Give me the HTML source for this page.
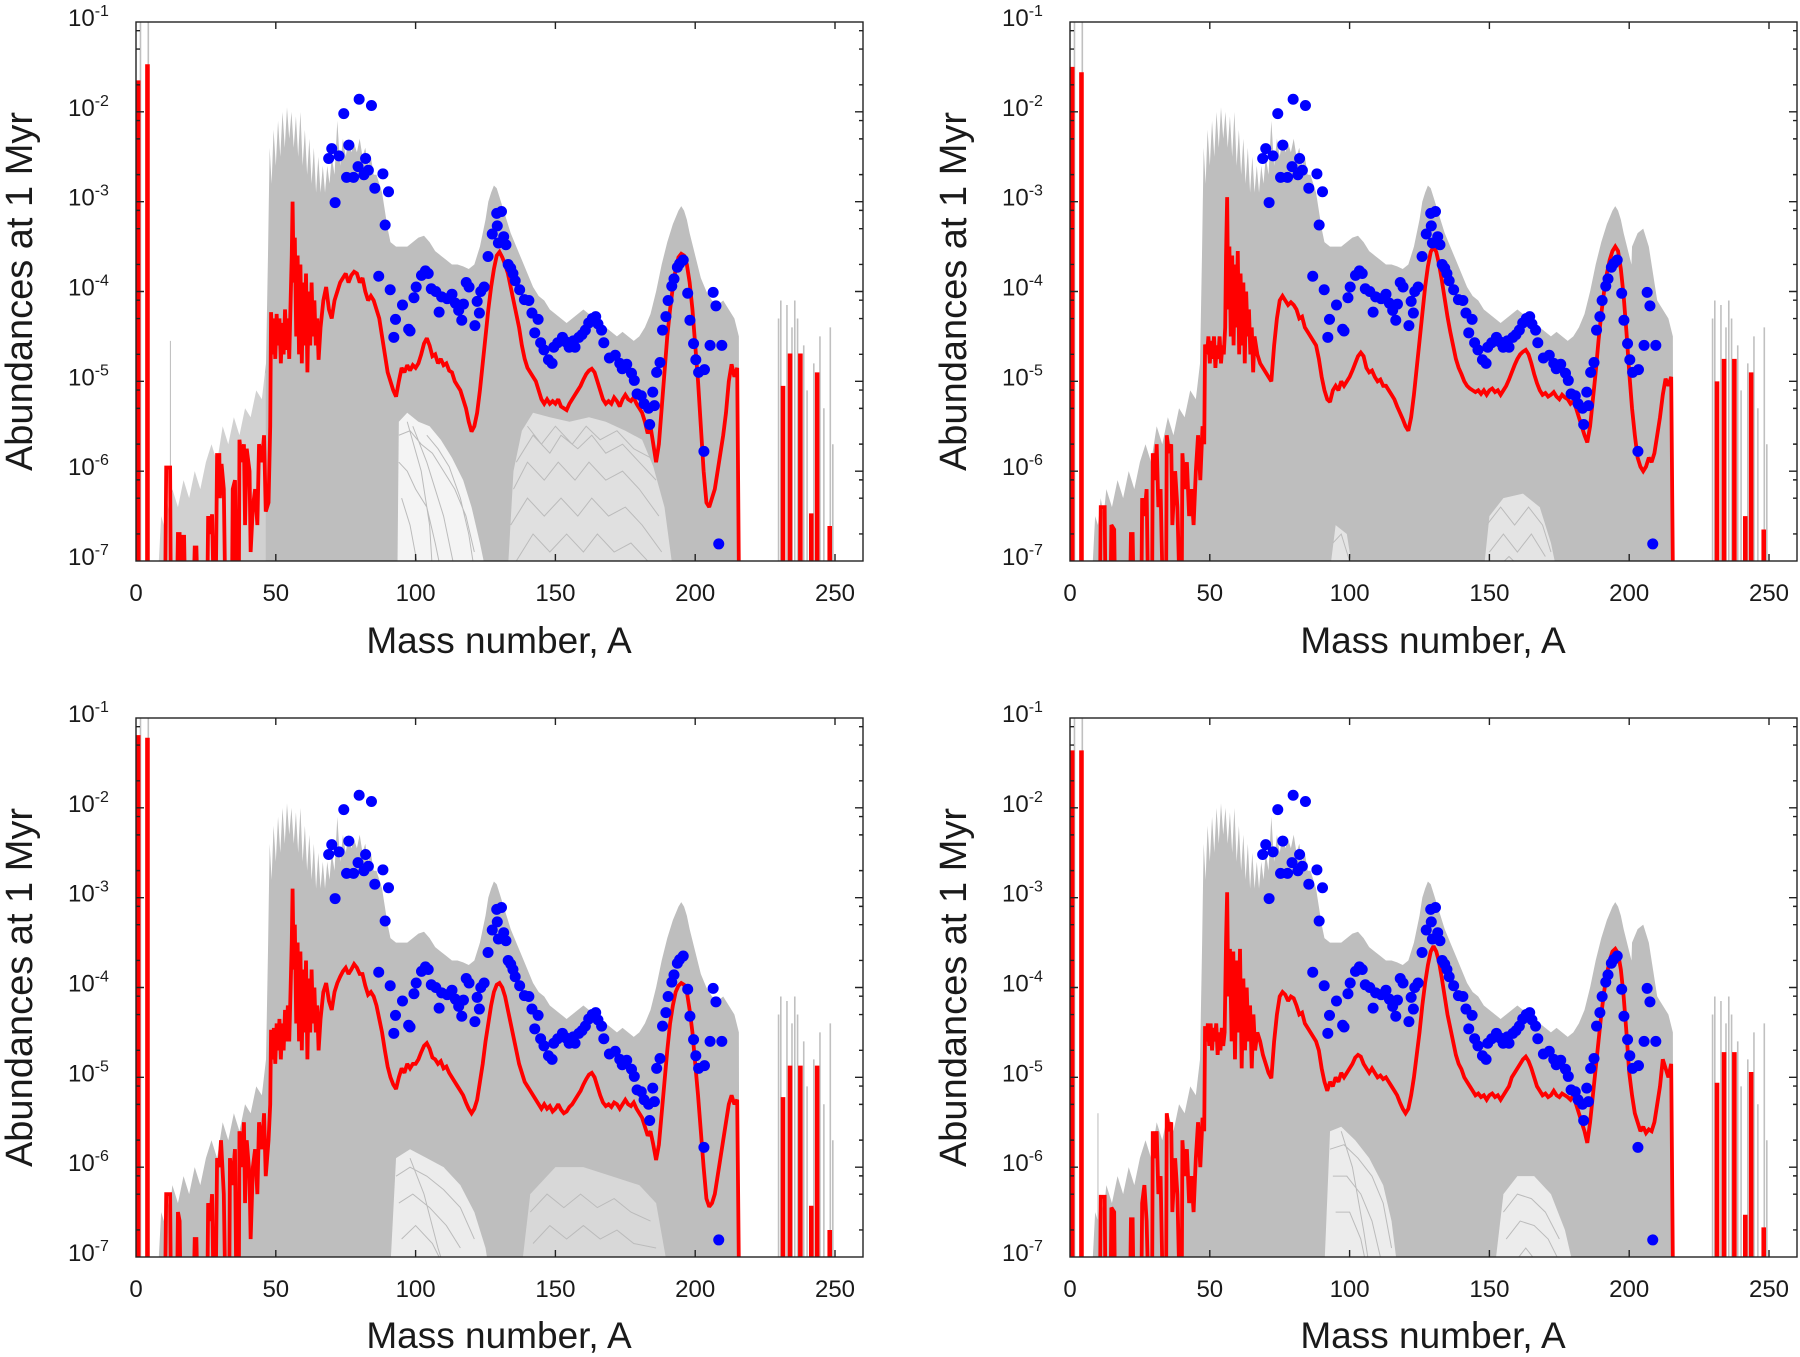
<!DOCTYPE html>
<html><head><meta charset="utf-8"><style>html,body{margin:0;padding:0;background:#fff}svg{display:block}</style></head>
<body>
<svg xmlns="http://www.w3.org/2000/svg" width="1800" height="1357" viewBox="0 0 1800 1357" font-family="'Liberation Sans', Arial, sans-serif">
<rect width="1800" height="1357" fill="#fff"/>
<defs>
<clipPath id="cp"><rect x="0" y="0" width="727" height="539"/></clipPath>
<polygon id="gmain" fill="#bebebe" points="8,7.1 9,6.5 10,6.6 11,6.3 12,6.5 13,6.2 15,6.4 17,6.1 19,6.3 21,6.0 23,6.2 25,5.9 27,5.7 29,5.9 31,5.5 33,5.7 35,5.4 37,5.6 39,5.3 41,5.4 43,5.1 45,5.2 46.5,4.8 47.2,3.6 47.8,2.4 48.5,2.8 49.2,2.2 50,2.6 50.8,2.1 51.6,2.5 52.4,2.0 53.2,2.4 54,1.95 54.8,2.3 55.6,2.0 56.4,2.4 57.2,2.05 58,2.5 58.8,2.0 59.6,2.6 60.4,2.2 61.2,2.7 62,2.3 62.8,2.8 63.6,2.4 64.4,2.9 65.2,2.5 66,2.9 66.8,2.6 67.6,2.9 68.4,2.6 69.2,2.8 70,2.5 71,2.7 72,2.1 73,2.6 74,2.3 75,2.5 76,2.3 77,2.45 78,2.35 79,2.45 80,2.3 81,2.5 82,2.4 83,2.6 84,2.5 85,2.7 86,2.7 87,2.8 88,2.9 89,3.1 90,3.3 91,3.45 93,3.5 95,3.5 97,3.5 99,3.45 101,3.4 103,3.38 105,3.45 107,3.55 109,3.6 111,3.65 113,3.7 115,3.7 117,3.72 119,3.75 121,3.7 123,3.5 125,3.2 126,3.0 127,2.9 128,2.82 129,2.85 130,2.95 131,3.05 132,3.15 134,3.35 136,3.5 138,3.65 140,3.8 142,3.95 144,4.05 146,4.1 148,4.2 150,4.25 152,4.3 154,4.35 156,4.3 158,4.25 160,4.2 162,4.25 164,4.3 166,4.35 168,4.4 170,4.45 172,4.5 174,4.45 176,4.5 178,4.55 180,4.5 182,4.4 184,4.25 186,4.0 188,3.7 190,3.45 192,3.25 194,3.1 195,3.05 196,3.1 197,3.2 198,3.35 200,3.6 202,3.85 204,4.0 206,4.1 208,4.15 210,4.1 212,4.2 214,4.3 215.6,4.5 215.8,7.1"/>
<g id="gright" fill="none" stroke="#c0c0c0" stroke-width="1.6">
<path vector-effect="non-scaling-stroke" d="M229.8 7.1V4.3 M230.6 7.1V4.1 M232.8 7.1V4.15 M234.6 7.1V4.4 M235.6 7.1V4.1 M236.6 7.1V4.3 M238.8 7.1V4.6 M240 7.1V5.1 M242.4 7.1V4.8 M244.6 7.1V4.5 M246 7.1V5.3 M248.3 7.1V4.4 M249.2 7.1V5.7 M1.6 7.1V1 M4.4 7.1V1"/>
</g>
<path id="dots" fill="none" stroke="#0000ff" stroke-width="11" stroke-linecap="round" vector-effect="non-scaling-stroke" d="M68.9 2.52h.01 M70 2.41h.01 M72.6 2.49h.01 M74.3 2.02h.01 M76.1 2.37h.01 M75.3 2.73h.01 M71.2 3.01h.01 M77.8 2.73h.01 M79.8 1.86h.01 M79.4 2.61h.01 M82.1 2.52h.01 M81.5 2.7h.01 M83.1 2.65h.01 M84.2 1.93h.01 M85.4 2.85h.01 M88.3 2.69h.01 M89.1 3.26h.01 M90.3 2.89h.01 M86.8 3.83h.01 M90.9 3.98h.01 M92.8 4.31h.01 M92.2 4.51h.01 M95.3 4.15h.01 M97.5 4.42h.01 M98 4.44h.01 M99.4 4.07h.01 M100.2 3.95h.01 M102.1 3.82h.01 M103.5 3.77h.01 M104.5 3.8h.01 M105.6 3.97h.01 M107.2 4h.01 M108.4 4.23h.01 M109.3 4.06h.01 M111.3 4.08h.01 M113 4.03h.01 M114.2 4.13h.01 M115.4 4.21h.01 M116.5 4.32h.01 M117.1 4.14h.01 M118.1 3.9h.01 M119.1 3.95h.01 M121.2 4.38h.01 M122 4.11h.01 M122.8 4.24h.01 M123.3 4h.01 M124.5 3.95h.01 M125.9 3.61h.01 M127.4 3.36h.01 M129 3.13h.01 M130.7 3.11h.01 M129.2 3.27h.01 M129.6 3.46h.01 M131.5 3.39h.01 M132.3 3.48h.01 M133.1 3.7h.01 M134 3.74h.01 M134.8 3.8h.01 M135.6 3.88h.01 M137.2 3.98h.01 M138.9 4.09h.01 M140.5 4.1h.01 M141.6 4.24h.01 M142.6 4.46h.01 M143.8 4.31h.01 M144.7 4.57h.01 M145.9 4.65h.01 M147.5 4.76h.01 M148.8 4.8h.01 M149.4 4.62h.01 M150.8 4.57h.01 M152.5 4.51h.01 M153.7 4.56h.01 M154.9 4.62h.01 M156.4 4.55h.01 M157 4.62h.01 M158.4 4.51h.01 M159.5 4.48h.01 M160.7 4.43h.01 M161.9 4.35h.01 M163.2 4.3h.01 M164.4 4.28h.01 M165.2 4.36h.01 M166.5 4.43h.01 M167.3 4.57h.01 M169.3 4.74h.01 M171.4 4.71h.01 M173 4.8h.01 M173.9 4.86h.01 M175.5 4.81h.01 M177.2 4.91h.01 M178.2 4.99h.01 M179.2 5.14h.01 M180.7 5.16h.01 M181.7 5.25h.01 M183.3 5.3h.01 M184.8 5.12h.01 M185.4 5.27h.01 M183.7 5.48h.01 M186.2 4.9h.01 M187.4 4.79h.01 M188.3 4.43h.01 M189.5 4.28h.01 M190.3 4.1h.01 M191.6 3.94h.01 M192.4 3.86h.01 M193.6 3.73h.01 M194.4 3.69h.01 M195.7 3.65h.01 M197.3 4.02h.01 M198.1 4.32h.01 M199.4 4.58h.01 M200.2 4.76h.01 M201.2 4.9h.01 M203.3 4.87h.01 M203.1 5.78h.01 M205.3 4.6h.01 M206.4 4.01h.01 M207.4 4.16h.01 M209.5 4.6h.01 M208.4 6.81h.01"/>
<g id="frame" fill="none" stroke="#222" stroke-width="1.4">
<rect x="0" y="0" width="727" height="539"/>
<path d="M0 89.83h8M0 179.67h8M0 269.5h8M0 359.33h8M0 449.17h8
M727 89.83h-8M727 179.67h-8M727 269.5h-8M727 359.33h-8M727 449.17h-8
M0 8.71h4M0 27.04h4M0 62.79h4M0 98.54h4M0 116.87h4M0 152.62h4M0 188.38h4M0 206.71h4M0 242.46h4M0 278.21h4M0 296.54h4M0 332.29h4M0 368.04h4M0 386.38h4M0 422.13h4M0 457.88h4M0 476.21h4M0 511.96h4
M727 8.71h-4M727 27.04h-4M727 62.79h-4M727 98.54h-4M727 116.87h-4M727 152.62h-4M727 188.38h-4M727 206.71h-4M727 242.46h-4M727 278.21h-4M727 296.54h-4M727 332.29h-4M727 368.04h-4M727 386.38h-4M727 422.13h-4M727 457.88h-4M727 476.21h-4M727 511.96h-4
M139.8 539v-7M279.6 539v-7M419.4 539v-7M559.2 539v-7M699 539v-7
M139.8 0v7M279.6 0v7M419.4 0v7M559.2 0v7M699 0v7"/>
</g>
</defs>

<!-- ================= TOP LEFT ================= -->
<g transform="translate(136,22)">
<g clip-path="url(#cp)">
<g transform="scale(2.7962,89.833) translate(0,-1)">
<use href="#gmain"/>
<polygon points="8,7.1 8,6.4 20,6.0 30,5.5 40,5.2 46.4,4.9 46.4,7.1" fill="#fff" opacity="0.3"/>
<polygon points="93.5,7.1 94,5.45 97,5.35 101,5.45 105,5.5 109,5.65 113,5.85 117,6.1 120,6.4 123,6.8 125,7.1" fill="#f4f4f4"/>
<polygon points="133,7.1 135,6.0 138,5.55 142,5.35 148,5.4 155,5.45 162,5.4 168,5.45 175,5.55 181,5.65 185,5.95 189,6.4 192,7.1" fill="#e0e0e0"/>
<path fill="none" stroke="#bbb" stroke-width="1" vector-effect="non-scaling-stroke" d="M94 5.6 L98 5.55 L102 5.7 L106 5.8 L110 6.0 L114 6.2 L118 6.5 L121 6.9 M94 5.9 L97 6.0 L100 6.2 L104 6.4 L107 6.8 L109 7.1 M95 6.3 L98 6.6 L101 7.1 M104 5.6 L108 5.75 L112 5.95 L116 6.3 L119 6.7 L121 7.1 M99 5.5 L104 5.9 L110 6.5 L114 7.1 M97 5.45 L102 6.0 L105 6.6 L106 7.1 M136 5.9 L142 5.6 L148 5.8 L152 5.6 L158 5.75 L163 5.6 L168 5.8 L174 5.7 L180 5.9 L186 6.1 M135 6.2 L140 5.9 L146 6.1 L151 5.9 L157 6.1 L162 5.9 L168 6.1 L174 6.0 L180 6.2 L187 6.5 M134 6.6 L140 6.3 L146 6.5 L152 6.3 L158 6.5 L163 6.3 L169 6.5 L175 6.4 L181 6.6 L188 6.9 M136 7.0 L142 6.7 L148 6.9 L154 6.7 L160 6.9 L165 6.7 L171 6.9 L177 6.8 L183 7.0 M140 5.5 L145 5.7 L150 5.5 L156 5.7 L161 5.5 L166 5.65 L172 5.55 L178 5.75 L184 5.85 M12.3 7.1V4.55"/>
<use href="#gright"/>
<path fill="none" stroke="#ff0000" stroke-width="3.8" stroke-linejoin="miter" stroke-miterlimit="2" vector-effect="non-scaling-stroke" d="M10.5 7.1 L10.8 5.96 L12.2 5.96 L12.4 7.1 L14.8 7.1 L15 6.7 L15.6 6.7 L15.8 7.1 L16.4 7.1 L16.6 6.73 L17.2 6.73 L17.4 7.1 L20.8 7.1 L21 6.85 L21.6 6.85 L21.8 7.1 L25.6 7.1 L25.8 6.5 L26.6 6.7 L27.2 6.48 L27.6 7.1 L28.6 7.1 L29 5.82 L29.8 5.82 L30 6.3 L30.6 5.92 L31.4 6.2 L31.8 7.1 L34.4 7.1 L34.6 6.2 L35.4 6.1 L35.8 7.1 L36.8 7.1 L37 5.65 L37.8 5.9 L38.6 5.7 L39 6.6 L39.6 5.75 L40.6 6.0 L41 6.9 L41.8 6.4 L42.6 6.2 L43.4 6.6 L44 5.7 L45 5.9 L45.8 5.6 L46.4 6.45 L47.4 6.35 L48 5.5 L48.3 4.23 L48.8 4.7 L49.3 4.3 L49.8 4.75 L50.3 4.25 L50.8 4.6 L51.3 4.3 L51.8 4.8 L52.3 4.35 L52.8 4.7 L53.3 4.2 L53.8 4.65 L54.3 4.3 L54.8 4.75 L55.3 4.1 L55.7 3.6 L56 3.0 L56.4 3.9 L56.8 3.4 L57.3 4.5 L57.8 3.6 L58.3 4.7 L58.8 3.7 L59.3 4.8 L59.8 3.9 L60.3 4.6 L60.8 3.8 L61.3 4.9 L61.8 4.0 L62.3 4.6 L62.8 3.9 L63.3 4.5 L63.8 4.1 L64.3 4.6 L64.8 4.3 L65.3 4.76 L66 4.4 L67 4.1 L68 3.95 L69 4.2 L70 4.3 L71 4.1 L72 4.0 L73 3.9 L74 3.85 L75 3.8 L76 3.9 L77 3.82 L78 3.78 L79 3.8 L80 3.9 L81 3.85 L82 4.0 L83 4.1 L84 4.05 L85 4.1 L86 4.2 L87 4.3 L88 4.5 L89 4.7 L90 4.9 L91 5.0 L92 5.1 L93 5.17 L94 5.0 L95 4.85 L96 4.9 L97 4.82 L98 4.88 L99 4.82 L100 4.85 L101 4.8 L102 4.7 L103 4.58 L104 4.52 L105 4.6 L106 4.72 L107 4.7 L108 4.8 L109 4.75 L110 4.82 L111 4.8 L112 4.88 L113 4.9 L114 5.0 L115 5.05 L116 5.1 L117 5.2 L118 5.3 L119 5.45 L120 5.56 L121 5.5 L122 5.35 L123 5.1 L124 4.8 L125 4.5 L126 4.2 L127 3.95 L128 3.75 L129 3.6 L130 3.56 L131 3.62 L132 3.7 L133 3.8 L134 3.95 L135 4.1 L136 4.25 L137 4.4 L138 4.6 L139 4.75 L140 4.85 L141 4.9 L142 4.95 L143 5.0 L144 5.1 L145 5.2 L146 5.25 L147 5.2 L148 5.25 L149 5.22 L150 5.25 L151 5.2 L152 5.28 L153 5.3 L154 5.32 L155 5.25 L156 5.2 L157 5.15 L158 5.1 L159 5.05 L160 4.98 L161 4.92 L162 4.88 L163 4.86 L164 4.9 L165 5.0 L166 5.1 L167 5.2 L168 5.25 L169 5.22 L170 5.25 L171 5.18 L172 5.22 L173 5.28 L174 5.2 L175 5.15 L176 5.2 L177 5.22 L178 5.18 L179 5.25 L180 5.3 L181 5.35 L182 5.45 L183 5.58 L184 5.5 L185 5.7 L186 5.9 L187 5.7 L188 5.3 L189 4.9 L190 4.5 L191 4.2 L192 3.95 L193 3.75 L194 3.62 L195 3.58 L196 3.6 L197 3.7 L198 3.9 L199 4.2 L200 4.6 L201 5.0 L202 5.5 L203 6.0 L204 6.35 L205 6.4 L206 6.3 L207 6.2 L208 6.0 L209 5.8 L210 5.6 L211 5.35 L212 5.0 L213 4.81 L214 4.95 L215 4.85 L215.6 7.1"/>
<path fill="none" stroke="#ff0000" stroke-width="4.6" vector-effect="non-scaling-stroke" d="M0.8 7.1V1.65 M4.1 7.1V1.47 M231.4 7.1V5.05 M233.9 7.1V4.69 M237.6 7.1V4.69 M241.5 7.1V6.47 M243.6 7.1V4.9 M248.1 7.1V6.61"/>
<use href="#dots"/>
</g>
</g>
<use href="#frame"/>
<g fill="#1a1a1a">
<text x="-68" y="4" font-size="24">10<tspan dy="-10" font-size="16">-1</tspan></text>
<text x="-68" y="93.8" font-size="24">10<tspan dy="-10" font-size="16">-2</tspan></text>
<text x="-68" y="183.7" font-size="24">10<tspan dy="-10" font-size="16">-3</tspan></text>
<text x="-68" y="273.5" font-size="24">10<tspan dy="-10" font-size="16">-4</tspan></text>
<text x="-68" y="363.3" font-size="24">10<tspan dy="-10" font-size="16">-5</tspan></text>
<text x="-68" y="453.2" font-size="24">10<tspan dy="-10" font-size="16">-6</tspan></text>
<text x="-68" y="543" font-size="24">10<tspan dy="-10" font-size="16">-7</tspan></text>
<g font-size="24" text-anchor="middle">
<text x="0" y="579">0</text><text x="139.8" y="579">50</text><text x="279.6" y="579">100</text><text x="419.4" y="579">150</text><text x="559.2" y="579">200</text><text x="699" y="579">250</text>
</g>
<text x="363" y="631" font-size="37" text-anchor="middle">Mass number, A</text>
<text transform="translate(-104,269.5) rotate(-90)" font-size="38" text-anchor="middle">Abundances at 1 Myr</text>
</g>
</g>

<!-- ================= TOP RIGHT ================= -->
<g transform="translate(1070,22)">
<g clip-path="url(#cp)">
<g transform="scale(2.7962,89.833) translate(0,-1)">
<use href="#gmain"/>
<polygon fill="#bebebe" points="199,5.5 201,3.5 203,3.35 205,3.3 207,3.5 209,3.9 211,4.3 213,4.5 215,4.7 215.6,5.5"/>
<polygon points="148,7.1 150,6.5 155,6.3 162,6.25 168,6.4 172,6.8 174,7.1" fill="#e4e4e4"/>
<polygon points="93,7.1 95,6.6 99,6.7 101,7.1" fill="#e4e4e4"/>
<path fill="none" stroke="#bbb" stroke-width="1" vector-effect="non-scaling-stroke" d="M149 6.6 L154 6.4 L159 6.6 L164 6.4 L169 6.6 L172 6.9 M150 6.9 L155 6.7 L160 6.9 L165 6.7 L170 6.95 M152 7.1 L157 6.95 L162 7.1 M94 6.8 L97 6.7 L100 7.0"/>
<use href="#gright"/>
<path fill="none" stroke="#ff0000" stroke-width="3.8" stroke-linejoin="miter" stroke-miterlimit="2" vector-effect="non-scaling-stroke" d="M10.8 7.1 L11 6.4 L12.4 6.4 L12.6 7.1 L14.6 7.1 L14.8 6.6 L15.8 6.65 L16 7.1 L21.6 7.1 L21.8 6.7 L22.4 6.7 L22.6 7.1 L25.6 7.1 L25.8 6.3 L26.6 6.5 L27.4 6.2 L27.8 7.1 L29.4 7.1 L29.6 5.8 L30.4 6.1 L31 5.7 L31.6 6.4 L32.4 6.2 L33 7.1 L34.4 7.1 L34.6 5.6 L35.4 5.8 L36.2 5.7 L36.6 6.6 L37.6 6.0 L38.4 6.4 L39 7.1 L40 7.1 L40.2 5.8 L41 6.2 L41.8 5.9 L42.6 6.5 L43.4 6.2 L44.2 6.6 L45 6.0 L45.8 5.6 L46.6 6.1 L47.4 5.5 L48 5.7 L48.3 4.59 L49 4.7 L49.5 4.5 L50 4.8 L50.5 4.55 L51 4.75 L51.5 4.5 L52 4.85 L52.5 4.6 L53 4.75 L53.5 4.5 L54 4.8 L54.5 4.6 L55 4.7 L55.5 4.4 L55.8 3.6 L56.2 2.95 L56.6 4.2 L57 3.5 L57.5 4.5 L58 3.6 L58.5 4.6 L59 3.7 L59.5 4.4 L60 3.55 L60.5 4.7 L61 3.8 L61.5 4.6 L62 3.9 L62.5 4.8 L63 4.0 L63.5 4.5 L64 4.2 L64.5 4.7 L65 4.4 L65.5 4.9 L66 4.5 L67 4.7 L68 4.8 L69 4.85 L70 4.9 L71 4.95 L72 5.0 L73 4.6 L74 4.3 L75 4.1 L76 4.05 L77 4.1 L78 4.15 L79 4.12 L80 4.15 L81 4.2 L82 4.3 L83 4.28 L84 4.4 L85 4.45 L86 4.5 L87 4.55 L88 4.6 L89 4.75 L90 4.95 L91 5.1 L92 5.2 L93 5.23 L94 5.1 L95 5.05 L96 5.1 L97 5.0 L98 5.05 L99 5.0 L100 4.95 L101 4.88 L102 4.8 L103 4.72 L104 4.68 L105 4.72 L106 4.85 L107 4.9 L108 4.88 L109 4.95 L110 5.0 L111 4.98 L112 5.05 L113 5.05 L114 5.1 L115 5.15 L116 5.2 L117 5.28 L118 5.35 L119 5.42 L120 5.5 L121 5.55 L122 5.4 L123 5.15 L124 4.85 L125 4.55 L126 4.25 L127 3.95 L128 3.72 L129 3.56 L130 3.5 L131 3.56 L132 3.7 L133 3.88 L134 4.08 L135 4.28 L136 4.45 L137 4.6 L138 4.75 L139 4.85 L140 4.92 L141 5.0 L142 5.05 L143 5.08 L144 5.1 L145 5.12 L146 5.1 L147 5.14 L148 5.1 L149 5.15 L150 5.1 L151 5.08 L152 5.12 L153 5.1 L154 5.15 L155 5.1 L156 5.05 L157 4.98 L158 4.9 L159 4.82 L160 4.75 L161 4.7 L162 4.67 L163 4.65 L164 4.7 L165 4.8 L166 4.92 L167 5.02 L168 5.1 L169 5.15 L170 5.13 L171 5.17 L172 5.15 L173 5.12 L174 5.17 L175 5.2 L176 5.15 L177 5.18 L178 5.2 L179 5.25 L180 5.22 L181 5.3 L182 5.4 L183 5.5 L184 5.6 L185 5.68 L186 5.5 L187 5.2 L188 4.9 L189 4.55 L190 4.25 L191 4.0 L192 3.8 L193 3.65 L194 3.55 L195 3.5 L196 3.55 L197 3.75 L198 4.05 L199 4.45 L200 4.9 L201 5.3 L202 5.6 L203 5.85 L204 5.95 L205 6.0 L206 5.95 L207 5.85 L208 5.9 L209 5.8 L210 5.6 L211 5.4 L212 5.15 L213 4.97 L214 5.05 L215 4.95 L215.6 7.1"/>
<path fill="none" stroke="#ff0000" stroke-width="4.6" vector-effect="non-scaling-stroke" d="M0.8 7.1V1.5 M4.1 7.1V1.56 M231.4 7.1V5.0 M233.9 7.1V4.75 M237.6 7.1V4.75 M241.5 7.1V6.5 M243.6 7.1V4.9 M248.1 7.1V6.65"/>
<use href="#dots"/>
</g>
</g>
<use href="#frame"/>
<g fill="#1a1a1a">
<text x="-68" y="4" font-size="24">10<tspan dy="-10" font-size="16">-1</tspan></text>
<text x="-68" y="93.8" font-size="24">10<tspan dy="-10" font-size="16">-2</tspan></text>
<text x="-68" y="183.7" font-size="24">10<tspan dy="-10" font-size="16">-3</tspan></text>
<text x="-68" y="273.5" font-size="24">10<tspan dy="-10" font-size="16">-4</tspan></text>
<text x="-68" y="363.3" font-size="24">10<tspan dy="-10" font-size="16">-5</tspan></text>
<text x="-68" y="453.2" font-size="24">10<tspan dy="-10" font-size="16">-6</tspan></text>
<text x="-68" y="543" font-size="24">10<tspan dy="-10" font-size="16">-7</tspan></text>
<g font-size="24" text-anchor="middle">
<text x="0" y="579">0</text><text x="139.8" y="579">50</text><text x="279.6" y="579">100</text><text x="419.4" y="579">150</text><text x="559.2" y="579">200</text><text x="699" y="579">250</text>
</g>
<text x="363" y="631" font-size="37" text-anchor="middle">Mass number, A</text>
<text transform="translate(-104,269.5) rotate(-90)" font-size="38" text-anchor="middle">Abundances at 1 Myr</text>
</g>
</g>

<!-- ================= BOTTOM LEFT ================= -->
<g transform="translate(136,718)">
<g clip-path="url(#cp)">
<g transform="scale(2.7962,89.833) translate(0,-1)">
<use href="#gmain"/>
<polygon points="91,7.1 93,5.9 98,5.8 104,5.9 110,6.0 116,6.2 121,6.5 125,6.9 126,7.1" fill="#ececec"/>
<polygon points="138,7.1 141,6.3 150,6.0 160,6.0 170,6.1 180,6.2 186,6.4 190,7.1" fill="#d8d8d8"/>
<path fill="none" stroke="#bbb" stroke-width="1" vector-effect="non-scaling-stroke" d="M93 6.1 L98 6.0 L104 6.1 L110 6.25 L116 6.45 L121 6.8 M94 6.4 L99 6.3 L105 6.45 L111 6.65 L116 6.9 M95 6.8 L100 6.65 L106 6.85 L110 7.1 M98 5.9 L103 6.3 L108 6.9 L110 7.1 M141 6.5 L147 6.3 L153 6.45 L159 6.3 L165 6.45 L171 6.35 L177 6.5 L184 6.6 M142 6.85 L148 6.65 L154 6.8 L160 6.65 L166 6.8 L172 6.7 L178 6.85 L186 6.9"/>
<use href="#gright"/>
<path fill="none" stroke="#ff0000" stroke-width="3.8" stroke-linejoin="miter" stroke-miterlimit="2" vector-effect="non-scaling-stroke" d="M10.5 7.1 L10.8 6.3 L12.2 6.3 L12.4 7.1 L14.8 7.1 L15 6.5 L15.6 6.6 L15.8 7.1 L20.8 7.1 L21 6.8 L21.6 6.8 L21.8 7.1 L25.6 7.1 L25.8 6.4 L26.6 6.6 L27.2 6.3 L27.6 7.1 L28.6 7.1 L29 5.9 L29.8 6.0 L30.4 5.7 L31.4 6.3 L31.8 7.1 L33.4 7.1 L33.6 5.9 L34.4 6.2 L35.4 5.8 L35.8 7.1 L36.8 7.1 L37 5.6 L37.8 6.0 L38.6 5.5 L39 6.4 L39.6 5.7 L40.6 6.1 L41 6.8 L41.8 6.0 L42.6 5.8 L43.4 6.3 L44 5.5 L45 5.8 L45.8 5.4 L46.4 6.1 L47.4 5.7 L48 5.3 L48.3 4.47 L48.8 4.8 L49.3 4.45 L49.8 4.85 L50.3 4.4 L50.8 4.7 L51.3 4.35 L51.8 4.8 L52.3 4.4 L52.8 4.7 L53.3 4.25 L53.8 4.6 L54.3 4.2 L54.8 4.6 L55.3 4.0 L55.7 3.5 L56 2.9 L56.4 3.8 L56.8 3.3 L57.3 4.4 L57.8 3.5 L58.3 4.6 L58.8 3.6 L59.3 4.7 L59.8 3.8 L60.3 4.5 L60.8 3.7 L61.3 4.8 L61.8 3.9 L62.3 4.5 L62.8 3.8 L63.3 4.4 L63.8 4.0 L64.3 4.5 L64.8 4.2 L65.3 4.7 L66 4.35 L67 4.05 L68 3.95 L69 4.15 L70 4.25 L71 4.05 L72 3.95 L73 3.88 L74 3.82 L75 3.78 L76 3.85 L77 3.8 L78 3.74 L79 3.78 L80 3.85 L81 3.85 L82 3.98 L83 4.08 L84 4.05 L85 4.1 L86 4.2 L87 4.35 L88 4.5 L89 4.7 L90 4.88 L91 5.0 L92 5.08 L93 5.13 L94 5.0 L95 4.9 L96 4.95 L97 4.85 L98 4.9 L99 4.85 L100 4.85 L101 4.8 L102 4.72 L103 4.65 L104 4.62 L105 4.68 L106 4.78 L107 4.8 L108 4.85 L109 4.82 L110 4.9 L111 4.88 L112 4.95 L113 5.0 L114 5.05 L115 5.1 L116 5.15 L117 5.2 L118 5.28 L119 5.35 L120 5.4 L121 5.35 L122 5.25 L123 5.05 L124 4.85 L125 4.6 L126 4.4 L127 4.2 L128 4.05 L129 3.97 L130 3.95 L131 4.0 L132 4.1 L133 4.25 L134 4.4 L135 4.55 L136 4.7 L137 4.85 L138 4.95 L139 5.05 L140 5.1 L141 5.15 L142 5.2 L143 5.25 L144 5.3 L145 5.35 L146 5.3 L147 5.35 L148 5.32 L149 5.38 L150 5.35 L151 5.3 L152 5.36 L153 5.4 L154 5.38 L155 5.33 L156 5.3 L157 5.25 L158 5.2 L159 5.15 L160 5.08 L161 5.02 L162 4.97 L163 4.95 L164 5.0 L165 5.1 L166 5.2 L167 5.28 L168 5.32 L169 5.3 L170 5.33 L171 5.28 L172 5.3 L173 5.35 L174 5.3 L175 5.25 L176 5.3 L177 5.32 L178 5.28 L179 5.35 L180 5.4 L181 5.45 L182 5.55 L183 5.65 L184 5.6 L185 5.75 L186 5.92 L187 5.75 L188 5.4 L189 5.05 L190 4.7 L191 4.4 L192 4.2 L193 4.05 L194 3.98 L195 3.95 L196 3.97 L197 4.05 L198 4.25 L199 4.5 L200 4.85 L201 5.2 L202 5.6 L203 6.0 L204 6.35 L205 6.44 L206 6.4 L207 6.3 L208 6.1 L209 5.9 L210 5.7 L211 5.5 L212 5.3 L213 5.2 L214 5.3 L215 5.25 L215.6 7.1"/>
<path fill="none" stroke="#ff0000" stroke-width="4.6" vector-effect="non-scaling-stroke" d="M0.8 7.1V1.19 M4.1 7.1V1.22 M231.4 7.1V5.22 M233.9 7.1V4.87 M237.6 7.1V4.87 M241.5 7.1V6.43 M243.6 7.1V4.87 M248.1 7.1V6.7"/>
<use href="#dots"/>
</g>
</g>
<use href="#frame"/>
<g fill="#1a1a1a">
<text x="-68" y="4" font-size="24">10<tspan dy="-10" font-size="16">-1</tspan></text>
<text x="-68" y="93.8" font-size="24">10<tspan dy="-10" font-size="16">-2</tspan></text>
<text x="-68" y="183.7" font-size="24">10<tspan dy="-10" font-size="16">-3</tspan></text>
<text x="-68" y="273.5" font-size="24">10<tspan dy="-10" font-size="16">-4</tspan></text>
<text x="-68" y="363.3" font-size="24">10<tspan dy="-10" font-size="16">-5</tspan></text>
<text x="-68" y="453.2" font-size="24">10<tspan dy="-10" font-size="16">-6</tspan></text>
<text x="-68" y="543" font-size="24">10<tspan dy="-10" font-size="16">-7</tspan></text>
<g font-size="24" text-anchor="middle">
<text x="0" y="579">0</text><text x="139.8" y="579">50</text><text x="279.6" y="579">100</text><text x="419.4" y="579">150</text><text x="559.2" y="579">200</text><text x="699" y="579">250</text>
</g>
<text x="363" y="630" font-size="37" text-anchor="middle">Mass number, A</text>
<text transform="translate(-104,269.5) rotate(-90)" font-size="38" text-anchor="middle">Abundances at 1 Myr</text>
</g>
</g>

<!-- ================= BOTTOM RIGHT ================= -->
<g transform="translate(1070,718)">
<g clip-path="url(#cp)">
<g transform="scale(2.7962,89.833) translate(0,-1)">
<use href="#gmain"/>
<polygon fill="#bebebe" points="199,5.5 201,3.5 203,3.35 205,3.3 207,3.5 209,3.9 211,4.3 213,4.5 215,4.7 215.6,5.5"/>
<polygon points="91,7.1 93,5.6 97,5.55 102,5.7 107,5.9 112,6.2 115,6.6 117,7.1" fill="#ececec"/>
<polygon points="152,7.1 155,6.3 160,6.1 166,6.1 172,6.3 177,6.7 180,7.1" fill="#ececec"/>
<path fill="none" stroke="#bbb" stroke-width="1" vector-effect="non-scaling-stroke" d="M93 5.8 L98 5.75 L103 5.9 L108 6.1 L112 6.4 L115 6.9 M94 6.1 L99 6.1 L104 6.3 L108 6.6 L111 7.0 M95 6.5 L100 6.5 L104 6.8 L106 7.1 M97 5.6 L101 6.0 L105 6.7 L107 7.1 M155 6.5 L160 6.3 L165 6.35 L170 6.5 L175 6.8 M156 6.8 L161 6.6 L166 6.65 L171 6.8 L175 7.05 M158 7.1 L163 6.9 L168 7.1 M10 7.1V5.4"/>
<use href="#gright"/>
<path fill="none" stroke="#ff0000" stroke-width="3.8" stroke-linejoin="miter" stroke-miterlimit="2" vector-effect="non-scaling-stroke" d="M10.8 7.1 L11 6.33 L12.4 6.33 L12.6 7.1 L14.6 7.1 L14.8 6.45 L15.8 6.5 L16 7.1 L21.6 7.1 L21.8 6.58 L22.4 6.58 L22.6 7.1 L25.6 7.1 L25.8 6.4 L26.6 6.2 L27.4 6.6 L27.8 7.1 L29.4 7.1 L29.6 5.6 L30.4 5.9 L31 5.6 L31.6 6.3 L32.4 6.1 L33 7.1 L34.4 7.1 L34.6 5.4 L35.4 5.6 L36.2 5.5 L36.6 6.5 L37.6 5.9 L38.4 6.3 L39 7.1 L40 7.1 L40.2 5.7 L41 6.1 L41.8 5.8 L42.6 6.4 L43.4 6.1 L44.2 6.5 L45 5.9 L45.8 5.5 L46.6 6.0 L47.4 5.45 L48 5.6 L48.3 4.43 L48.8 4.6 L49.3 4.4 L49.8 4.65 L50.3 4.4 L50.8 4.7 L51.3 4.45 L51.8 4.6 L52.3 4.4 L52.8 4.75 L53.3 4.5 L53.8 4.7 L54.3 4.45 L54.8 4.65 L55.3 4.5 L55.8 3.5 L56.2 2.94 L56.6 4.1 L57.2 3.57 L57.8 4.6 L58.4 3.6 L59 4.8 L59.6 3.7 L60.2 4.5 L60.8 3.57 L61.4 4.9 L62 3.9 L62.6 4.7 L63.2 4.0 L63.8 4.6 L64.4 4.2 L65 4.9 L65.6 4.3 L66.2 4.7 L67 4.5 L68 4.6 L69 4.75 L70 4.85 L71 4.95 L72 5.01 L73 4.6 L74 4.3 L75 4.1 L76 4.05 L77 4.08 L78 4.15 L79 4.1 L80 4.12 L81 4.2 L82 4.3 L83 4.28 L84 4.4 L85 4.45 L86 4.5 L87 4.55 L88 4.6 L89 4.7 L90 4.9 L91 5.05 L92 5.15 L93 5.05 L94 5.1 L95 5.0 L96 5.05 L97 4.95 L98 5.0 L99 4.95 L100 4.9 L101 4.85 L102 4.78 L103 4.75 L104 4.77 L105 4.85 L106 4.9 L107 4.95 L108 4.9 L109 4.95 L110 5.0 L111 4.98 L112 5.02 L113 5.0 L114 5.05 L115 5.1 L116 5.15 L117 5.2 L118 5.28 L119 5.35 L120 5.4 L121 5.35 L122 5.2 L123 5.0 L124 4.75 L125 4.5 L126 4.2 L127 3.95 L128 3.75 L129 3.6 L130 3.54 L131 3.6 L132 3.72 L133 3.9 L134 4.1 L135 4.3 L136 4.45 L137 4.6 L138 4.75 L139 4.85 L140 4.91 L141 5.0 L142 5.05 L143 5.1 L144 5.15 L145 5.2 L146 5.18 L147 5.22 L148 5.2 L149 5.25 L150 5.2 L151 5.18 L152 5.22 L153 5.2 L154 5.25 L155 5.2 L156 5.15 L157 5.1 L158 5.0 L159 4.95 L160 4.9 L161 4.85 L162 4.8 L163 4.77 L164 4.82 L165 4.9 L166 5.0 L167 5.1 L168 5.15 L169 5.2 L170 5.18 L171 5.22 L172 5.2 L173 5.15 L174 5.2 L175 5.22 L176 5.18 L177 5.2 L178 5.22 L179 5.25 L180 5.2 L181 5.3 L182 5.4 L183 5.5 L184 5.6 L185 5.73 L186 5.5 L187 5.2 L188 4.9 L189 4.6 L190 4.3 L191 4.05 L192 3.85 L193 3.7 L194 3.6 L195 3.57 L196 3.62 L197 3.8 L198 4.1 L199 4.5 L200 4.95 L201 5.2 L202 5.4 L203 5.5 L204 5.6 L205 5.55 L206 5.62 L207 5.58 L208 5.6 L209 5.5 L210 5.3 L211 5.1 L212 4.8 L213 4.9 L214 5.0 L215 4.85 L215.6 7.1"/>
<path fill="none" stroke="#ff0000" stroke-width="4.6" vector-effect="non-scaling-stroke" d="M0.8 7.1V1.36 M4.1 7.1V1.36 M231.4 7.1V5.06 M233.9 7.1V4.72 M237.6 7.1V4.72 M241.5 7.1V6.53 M243.6 7.1V4.94 M248.1 7.1V6.67"/>
<use href="#dots"/>
</g>
</g>
<use href="#frame"/>
<g fill="#1a1a1a">
<text x="-68" y="4" font-size="24">10<tspan dy="-10" font-size="16">-1</tspan></text>
<text x="-68" y="93.8" font-size="24">10<tspan dy="-10" font-size="16">-2</tspan></text>
<text x="-68" y="183.7" font-size="24">10<tspan dy="-10" font-size="16">-3</tspan></text>
<text x="-68" y="273.5" font-size="24">10<tspan dy="-10" font-size="16">-4</tspan></text>
<text x="-68" y="363.3" font-size="24">10<tspan dy="-10" font-size="16">-5</tspan></text>
<text x="-68" y="453.2" font-size="24">10<tspan dy="-10" font-size="16">-6</tspan></text>
<text x="-68" y="543" font-size="24">10<tspan dy="-10" font-size="16">-7</tspan></text>
<g font-size="24" text-anchor="middle">
<text x="0" y="579">0</text><text x="139.8" y="579">50</text><text x="279.6" y="579">100</text><text x="419.4" y="579">150</text><text x="559.2" y="579">200</text><text x="699" y="579">250</text>
</g>
<text x="363" y="630" font-size="37" text-anchor="middle">Mass number, A</text>
<text transform="translate(-104,269.5) rotate(-90)" font-size="38" text-anchor="middle">Abundances at 1 Myr</text>
</g>
</g>
</svg>
</body></html>
